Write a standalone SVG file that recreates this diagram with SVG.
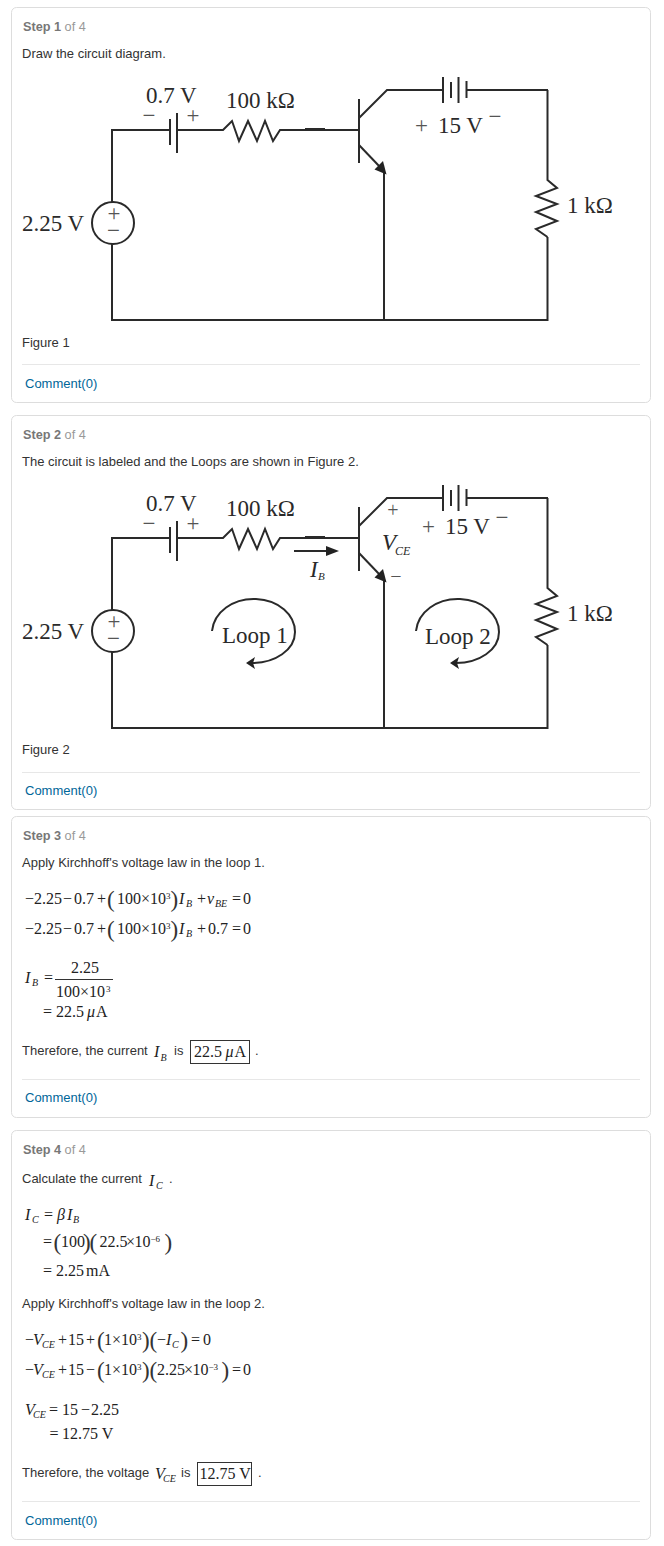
<svg xmlns="http://www.w3.org/2000/svg" xmlns:xlink="http://www.w3.org/1999/xlink" width="664" height="1546" viewBox="0 0 664 1546">
<style>
.card{fill:#fff;stroke:#ddd;stroke-width:1}
.rule{stroke:#e7e7e7;stroke-width:1}
text{font-family:"Liberation Sans",Arial,sans-serif;font-size:13px;fill:#333}
.h{font-weight:bold;fill:#777;font-size:12.700px}
.g{font-weight:normal;fill:#999}
.c{fill:#069}
.m{font-family:"Liberation Serif","Times New Roman",serif;font-size:16px;fill:#222}
.i{font-style:italic}
.s{font-style:italic;font-size:10px}
.sup{font-size:9px}
.p{font-size:23px;fill:#333}
.f{font-family:"Liberation Serif","Times New Roman",serif;font-size:23px;fill:#2a2a2a}
.sign{fill:#555}
.w{fill:none;stroke:#2a2a2a;stroke-width:2}
.k{fill:#222;stroke:none}
.box{fill:none;stroke:#333;stroke-width:1}
.fr{stroke:#333;stroke-width:1}
</style>
<defs>
<g id="circuit">
<g class="w">
<path d="M112,202V130H170M177,130H223L232,121L239,141L248,121L257,141L265,121L273,141L280,130H359"/>
<path d="M305,129.500H325" stroke-width="3"/>
<path d="M170,119V145M177,113V153"/>
<circle cx="113" cy="223" r="21"/>
<path d="M112,244V320H547.500V237"/>
<path d="M384,320V172"/>
<path d="M359,99V163M359,118L387,90H443M443,77V103M451,82V98M458.500,77V103M466.500,81V98M466.500,90H548M547.500,90V180L557,188L536,196L557,204L536,212L557,221L536,229L547.500,237"/>
<path d="M359,145L380,167"/>
</g>
<path class="k" d="M374.500,169.500L383,161L386.500,174.500Z"/>
<text class="f" x="146" y="103">0.7 V</text>
<text class="f" x="226" y="108">100 kΩ</text>
<text class="f sign" x="149" y="123" text-anchor="middle">−</text>
<text class="f sign" x="193" y="123" text-anchor="middle">+</text>
<text class="f" x="22" y="231">2.25 V</text>
<text class="f sign" x="114" y="221" text-anchor="middle">+</text>
<text class="f sign" x="113.500" y="238" text-anchor="middle">−</text>
<text class="f" x="567" y="213">1 kΩ</text>
</g>
</defs>

<g id="step1">
<rect class="card" x="11.500" y="7.500" width="639" height="395" rx="5"/>
<text class="h" x="23" y="31">Step 1 <tspan class="g">of 4</tspan></text>
<text x="22" y="58">Draw the circuit diagram.</text>
<g id="figure1">
<use xlink:href="#circuit" href="#circuit"/>
<text class="f sign" x="415" y="133">+</text>
<text class="f" x="438" y="133">15 V</text>
<text class="f sign" x="495" y="124" text-anchor="middle">−</text>
</g>
<text x="22" y="347">Figure 1</text>
<line class="rule" x1="22" y1="364.500" x2="640" y2="364.500"/>
<text class="c" x="25" y="388">Comment(0)</text>
</g>

<g id="step2">
<rect class="card" x="11.500" y="415.500" width="639" height="394" rx="5"/>
<text class="h" x="23" y="439">Step 2 <tspan class="g">of 4</tspan></text>
<text x="22" y="466">The circuit is labeled and the Loops are shown in Figure 2.</text>
<g id="figure2">
<use xlink:href="#circuit" href="#circuit" transform="translate(0,408)"/>
<g id="connectors">
<path class="w" d="M294,551H328"/>
<path class="k" d="M326,546L339,551L326,556Z"/>
<path class="w" d="M212,631C214,612 233,598 256,599C279,600 295,615 295,632C295,650 275,663 252,663"/>
<path class="k" d="M246,663L255,657L253,663L255,669Z"/>
<path class="w" d="M416,631C418,612 437,598 460,599C483,600 499,615 499,632C499,650 479,663 456,663"/>
<path class="k" d="M450,663L459,657L457,663L459,669Z"/>
</g>
<text class="f sign" x="393" y="517" text-anchor="middle" style="font-size:20px">+</text>
<text class="f sign" x="396" y="583" text-anchor="middle" style="font-size:20px">−</text>
<text class="f i" x="382" y="550">V</text>
<text class="f i" x="395" y="555" style="font-size:12px">CE</text>
<text class="f i" x="310" y="577">I</text>
<text class="f i" x="318" y="580" style="font-size:11px">B</text>
<text class="f sign" x="422" y="534">+</text>
<text class="f" x="445" y="534">15 V</text>
<text class="f sign" x="502" y="525" text-anchor="middle">−</text>
<text class="f" x="222" y="643">Loop 1</text>
<text class="f" x="425" y="644">Loop 2</text>
</g>
<text x="22" y="754">Figure 2</text>
<line class="rule" x1="22" y1="772.500" x2="640" y2="772.500"/>
<text class="c" x="25" y="795">Comment(0)</text>
</g>

<g id="step3">
<rect class="card" x="11.500" y="816.500" width="639" height="301" rx="5"/>
<text class="h" x="23" y="840">Step 3 <tspan class="g">of 4</tspan></text>
<text x="22" y="867">Apply Kirchhoff's voltage law in the loop 1.</text>
<text class="m" y="904"><tspan x="25">−2.25</tspan><tspan x="63">−</tspan><tspan x="74">0.7</tspan><tspan x="97">+</tspan><tspan x="117">100×10</tspan><tspan class="sup" x="166" dy="-5">3</tspan><tspan class="i" x="179" dy="5">I</tspan><tspan class="s" x="186" dy="3">B</tspan><tspan x="197" dy="-3">+</tspan><tspan class="i" x="207">v</tspan><tspan class="s" x="215" dy="3">BE</tspan><tspan x="232" dy="-3">=</tspan><tspan x="243">0</tspan></text>
<text class="m p" x="107" y="907">(</text><text class="m p" x="170.500" y="907">)</text>
<text class="m" y="934"><tspan x="25">−2.25</tspan><tspan x="63">−</tspan><tspan x="74">0.7</tspan><tspan x="97">+</tspan><tspan x="117">100×10</tspan><tspan class="sup" x="166" dy="-5">3</tspan><tspan class="i" x="179" dy="5">I</tspan><tspan class="s" x="186" dy="3">B</tspan><tspan x="197" dy="-3">+</tspan><tspan x="208">0.7</tspan><tspan x="232">=</tspan><tspan x="243">0</tspan></text>
<text class="m p" x="107" y="937">(</text><text class="m p" x="170.500" y="937">)</text>
<text class="m" y="983"><tspan class="i" x="25">I</tspan><tspan class="s" x="32" dy="3">B</tspan><tspan x="44" dy="-3">=</tspan></text>
<text class="m" x="71" y="973">2.25</text>
<line class="fr" x1="55" y1="979.500" x2="113" y2="979.500"/>
<text class="m" y="997"><tspan x="56">100×10</tspan><tspan class="sup" x="106" dy="-5">3</tspan></text>
<text class="m" y="1017"><tspan x="43">=</tspan><tspan x="56">22.5</tspan><tspan class="i" x="87">μ</tspan><tspan x="96">A</tspan></text>
<text x="22" y="1055">Therefore, the current</text>
<text class="m" y="1057"><tspan class="i" x="154">I</tspan><tspan class="s" x="160.500" dy="4">B</tspan></text>
<text x="174" y="1055">is</text>
<rect class="box" x="190.500" y="1040.500" width="59" height="23"/>
<text class="m" y="1057"><tspan x="194">22.5</tspan><tspan class="i" x="225.500">μ</tspan><tspan x="234.500">A</tspan></text>
<text x="255" y="1055">.</text>
<line class="rule" x1="22" y1="1079.500" x2="640" y2="1079.500"/>
<text class="c" x="25" y="1102">Comment(0)</text>
</g>

<g id="step4">
<rect class="card" x="11.500" y="1130.500" width="639" height="409" rx="5"/>
<text class="h" x="23" y="1154">Step 4 <tspan class="g">of 4</tspan></text>
<text x="22" y="1183">Calculate the current</text>
<text class="m" y="1186"><tspan class="i" x="149">I</tspan><tspan class="s" x="156" dy="3">C</tspan></text>
<text x="169" y="1183">.</text>
<text class="m" y="1220"><tspan class="i" x="25">I</tspan><tspan class="s" x="32" dy="3">C</tspan><tspan x="44" dy="-3">=</tspan><tspan class="i" x="57">β</tspan><tspan class="i" x="67">I</tspan><tspan class="s" x="73" dy="3">B</tspan></text>
<text class="m" y="1247"><tspan x="43">=</tspan><tspan x="61">100</tspan><tspan x="99.500">22.5</tspan><tspan x="126">×</tspan><tspan x="134.500">10</tspan><tspan class="sup" x="150.500" dy="-5">−6</tspan></text>
<text class="m p" x="53.500" y="1250">(</text><text class="m p" x="83" y="1250">)</text><text class="m p" x="89.500" y="1250">(</text><text class="m p" x="164.500" y="1250">)</text>
<text class="m" y="1276"><tspan x="43">=</tspan><tspan x="56">2.25</tspan><tspan x="86">mA</tspan></text>
<text x="22" y="1308">Apply Kirchhoff's voltage law in the loop 2.</text>
<text class="m" y="1345"><tspan x="25">−</tspan><tspan class="i" x="33">V</tspan><tspan class="s" x="42" dy="3">CE</tspan><tspan x="58" dy="-3">+</tspan><tspan x="68">15</tspan><tspan x="86">+</tspan><tspan x="104">1×10</tspan><tspan class="sup" x="137" dy="-5">3</tspan><tspan x="157" dy="5">−</tspan><tspan class="i" x="166">I</tspan><tspan class="s" x="172" dy="3">C</tspan><tspan x="191" dy="-3">=</tspan><tspan x="203">0</tspan></text>
<text class="m p" x="97" y="1348">(</text><text class="m p" x="142" y="1348">)</text><text class="m p" x="149.500" y="1348">(</text><text class="m p" x="180.500" y="1348">)</text>
<text class="m" y="1375"><tspan x="25">−</tspan><tspan class="i" x="33">V</tspan><tspan class="s" x="42" dy="3">CE</tspan><tspan x="58" dy="-3">+</tspan><tspan x="68">15</tspan><tspan x="86">−</tspan><tspan x="104">1×10</tspan><tspan class="sup" x="137" dy="-5">3</tspan><tspan x="157" dy="5">2.25</tspan><tspan x="184">×</tspan><tspan x="192.500">10</tspan><tspan class="sup" x="208.500" dy="-5">−3</tspan><tspan x="232" dy="5">=</tspan><tspan x="243">0</tspan></text>
<text class="m p" x="97" y="1378">(</text><text class="m p" x="142" y="1378">)</text><text class="m p" x="149.500" y="1378">(</text><text class="m p" x="221.500" y="1378">)</text>
<text class="m" y="1415"><tspan class="i" x="25">V</tspan><tspan class="s" x="33" dy="3">CE</tspan><tspan x="49" dy="-3">=</tspan><tspan x="62">15</tspan><tspan x="81">−</tspan><tspan x="91">2.25</tspan></text>
<text class="m" y="1439"><tspan x="49.500">=</tspan><tspan x="62">12.75 V</tspan></text>
<text x="22" y="1477">Therefore, the voltage</text>
<text class="m" y="1479"><tspan class="i" x="155">V</tspan><tspan class="s" x="163" dy="3">CE</tspan></text>
<text x="181" y="1477">is</text>
<rect class="box" x="197.500" y="1462.500" width="54" height="23"/>
<text class="m" x="199.500" y="1479">12.75 V</text>
<text x="258" y="1477">.</text>
<line class="rule" x1="22" y1="1501.500" x2="640" y2="1501.500"/>
<text class="c" x="25" y="1525">Comment(0)</text>
</g>
</svg>
